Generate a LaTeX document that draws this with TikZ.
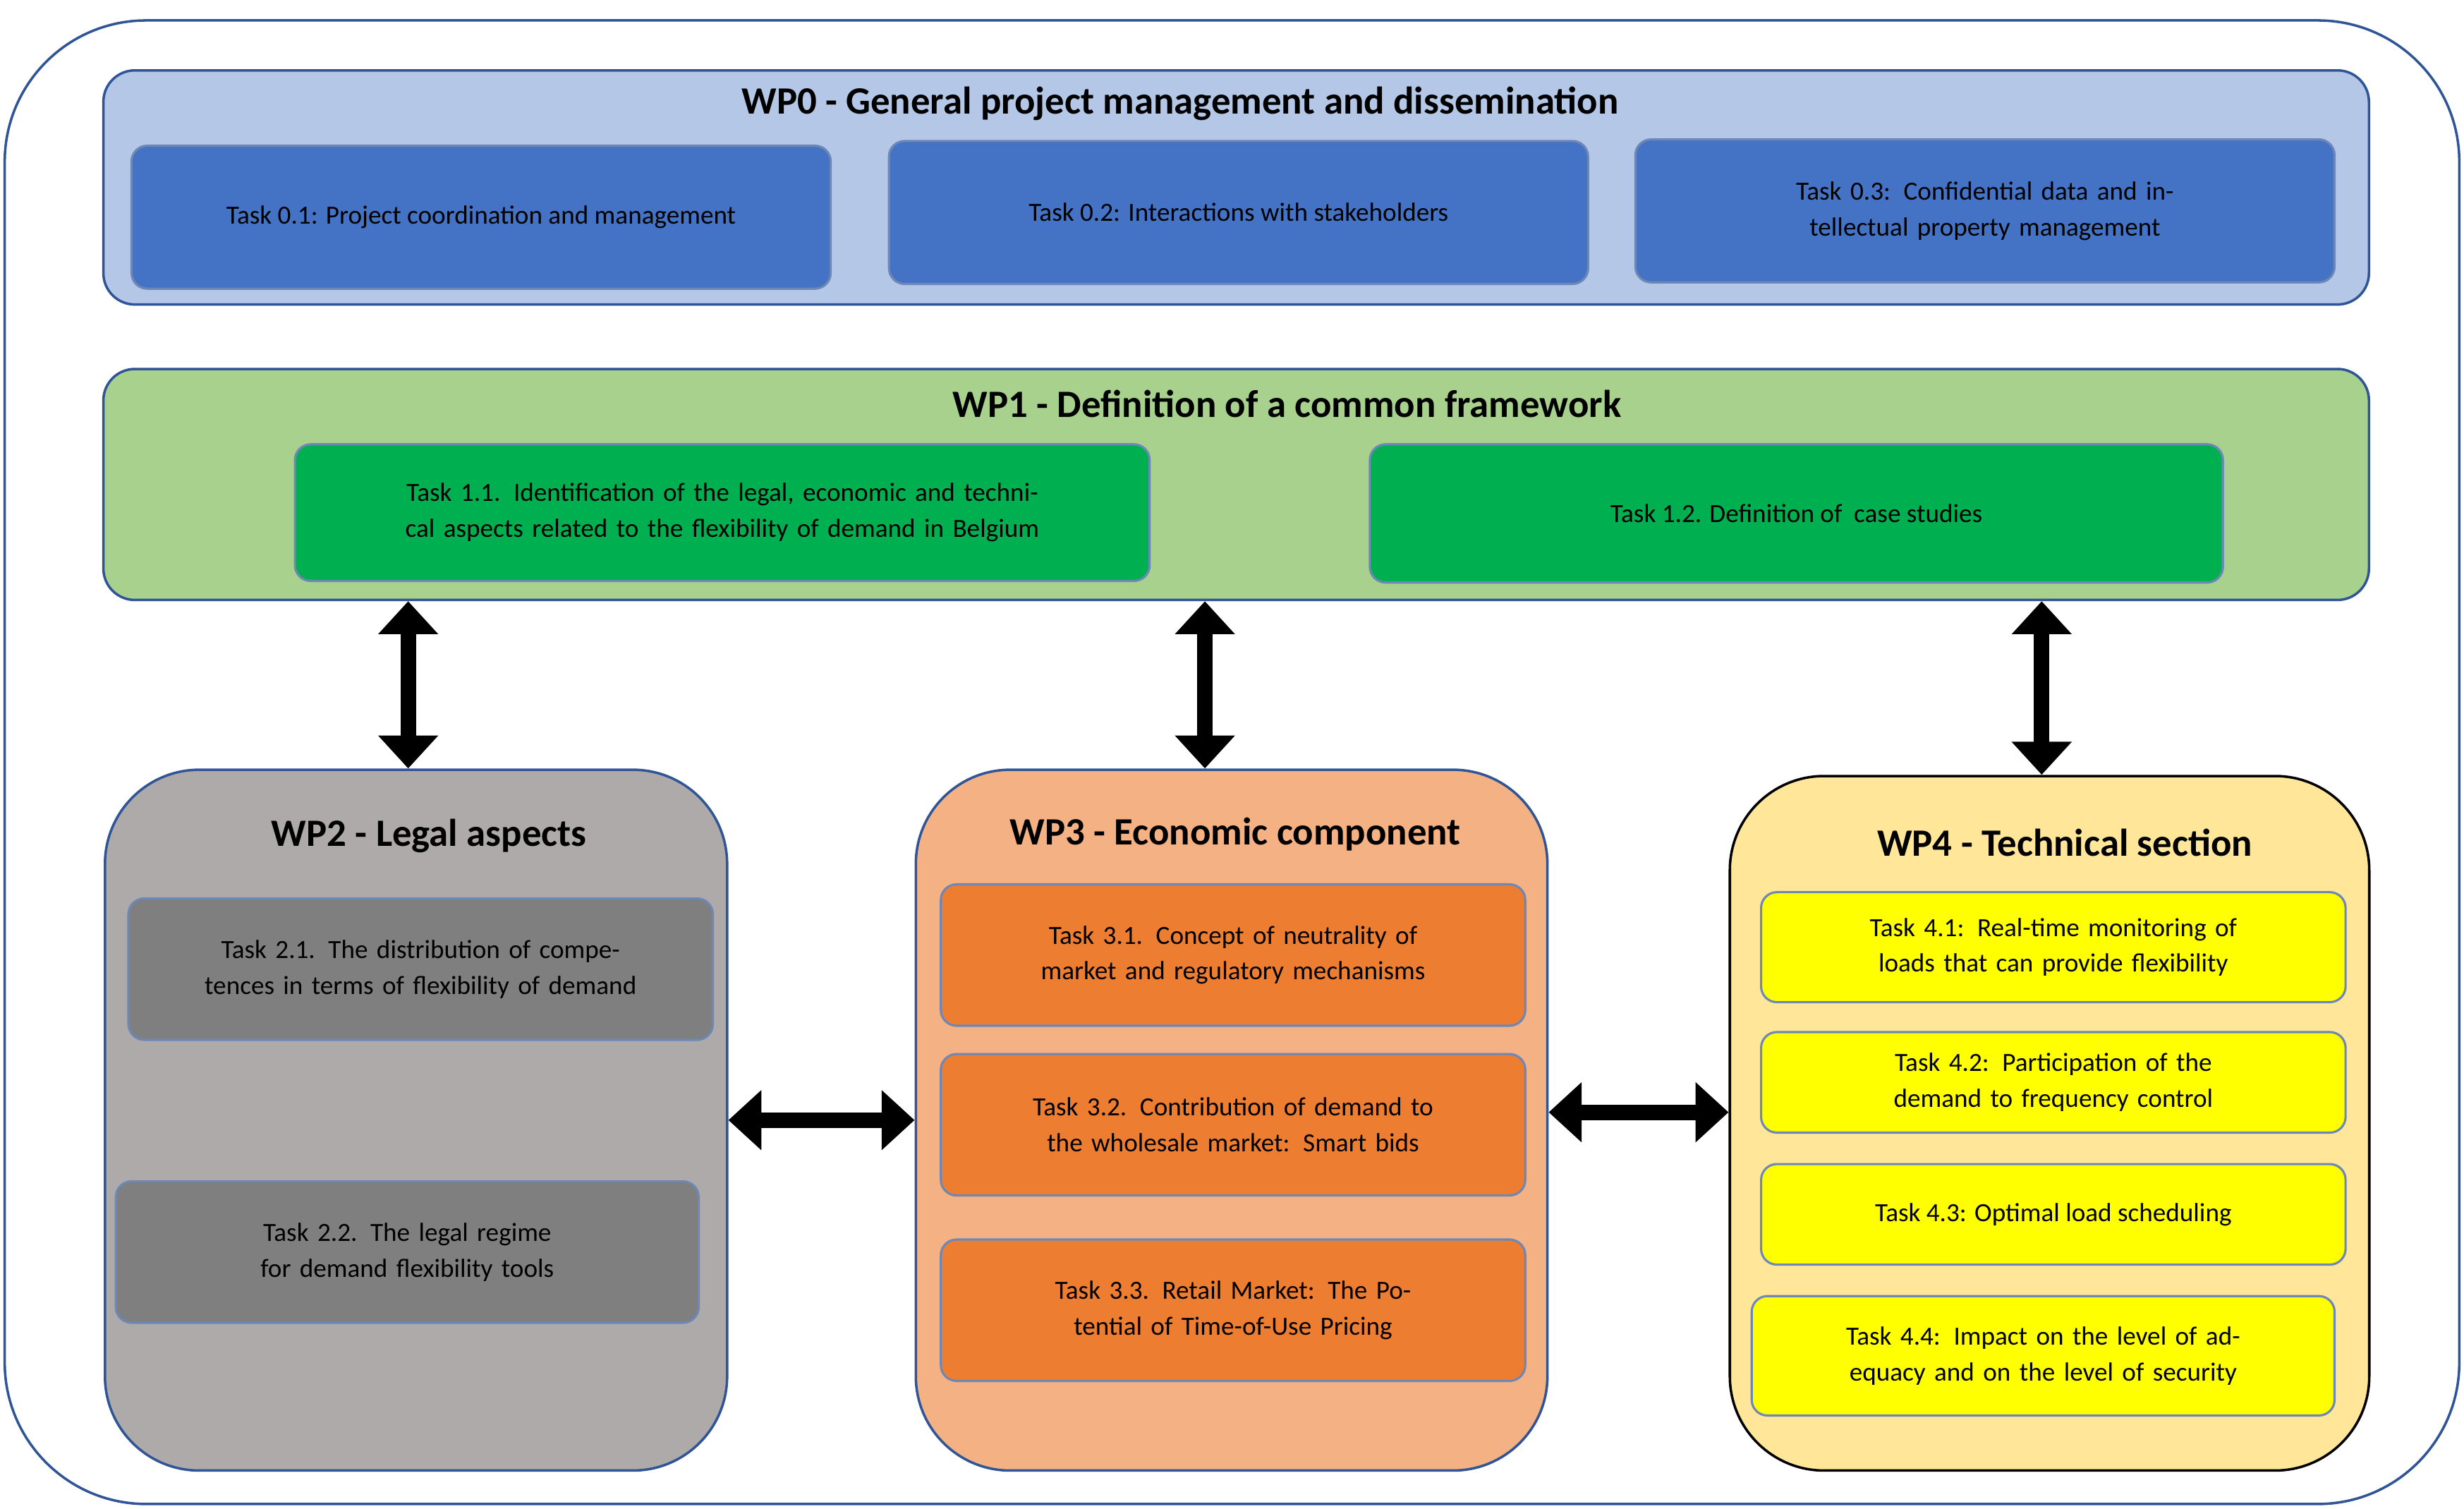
\documentclass[tikz,border=0pt]{standalone}
\usepackage{fontspec}
\setmainfont{Carlito}
\usetikzlibrary{arrows.meta,positioning}

\definecolor{wpblue}{HTML}{B4C7E7}
\definecolor{taskblue}{HTML}{4472C4}
\definecolor{wpgreen}{HTML}{A9D18E}
\definecolor{taskgreen}{HTML}{00B050}
\definecolor{wpgrey}{HTML}{AEAAAA}
\definecolor{taskgrey}{HTML}{7F7F7F}
\definecolor{wporange}{HTML}{F4B183}
\definecolor{taskorange}{HTML}{ED7D31}
\definecolor{wpyellow}{HTML}{FFE699}
\definecolor{taskyellow}{HTML}{FFFF00}
\definecolor{edgeblue}{HTML}{2F5597}

\begin{document}
\begin{tikzpicture}[x=0.02cm, y=-0.02cm]
    % Define block styles
    \tikzset{
      wp/.style = {rectangle, draw=edgeblue, line width=0.9pt, anchor=north west, rounded corners=0.4cm},
      bigwp/.style = {wp, rounded corners=1.2cm},
      task/.style = {rectangle, draw=edgeblue!70, line width=0.8pt, anchor=north west, rounded corners=0.2cm,
                     align=center, font=\fontsize{9.5}{13}\selectfont, inner sep=2pt},
      title/.style = {font=\bfseries\fontsize{14}{17}\selectfont},
      link/.style = {line width=0.2cm, {Triangle[length=0.42cm,width=0.74cm]}-{Triangle[length=0.42cm,width=0.74cm]}}
    }
    \useasboundingbox (0,0) rectangle (1568,960);
    \draw[edgeblue, line width=0.9pt, rounded corners=1.8cm] (3,13) rectangle (1565,957);

    % WP0
    \node [wp, fill=wpblue, minimum width=28.84cm, minimum height=2.98cm] (wp0) at (65,44) {};
    \node [title] at (751,66) {WP0 - General project management and dissemination};
    \node [task, fill=taskblue, minimum width=8.9cm, minimum height=1.82cm] (t01) at (83,92) {Task 0.1: Project coordination and management};
    \node [task, fill=taskblue, minimum width=8.9cm, minimum height=1.82cm] (t02) at (565,89) {Task 0.2: Interactions with stakeholders};
    \node [task, fill=taskblue, minimum width=8.9cm, minimum height=1.82cm, text width=7.5cm] (t03) at (1040,88) {Task 0.3: Confidential data and intellectual property management};

    % WP1
    \node [wp, fill=wpgreen, minimum width=28.84cm, minimum height=2.94cm] (wp1) at (65,234) {};
    \node [title] at (819,257) {WP1 - Definition of a common framework};
    \node [task, fill=taskgreen, minimum width=10.88cm, minimum height=1.74cm, text width=9.6cm] (t11) at (187,282) {Task 1.1. Identification of the legal, economic and technical aspects related to the flexibility of demand in Belgium};
    \node [task, fill=taskgreen, minimum width=10.86cm, minimum height=1.76cm] (t12) at (871,282) {Task 1.2. Definition of\ \ case studies};

    % WP2
    \node [bigwp, fill=wpgrey, minimum width=7.92cm, minimum height=8.92cm] (wp2) at (66,489) {};
    \node [title] at (273,532) {WP2 - Legal aspects};
    \node [task, fill=taskgrey, minimum width=7.44cm, minimum height=1.8cm, text width=7cm] (t21) at (81,571) {Task 2.1. The distribution of competences in terms of flexibility of demand};
    \node [task, fill=taskgrey, minimum width=7.42cm, minimum height=1.8cm, text width=6.4cm] (t22) at (73,751) {Task 2.2. The legal regime for demand flexibility tools};

    % WP3
    \node [bigwp, fill=wporange, minimum width=8.04cm, minimum height=8.92cm] (wp3) at (582,489) {};
    \node [title] at (786,531) {WP3 - Economic component};
    \node [task, fill=taskorange, minimum width=7.44cm, minimum height=1.8cm, text width=6.6cm] (t31) at (598,562) {Task 3.1. Concept of neutrality of market and regulatory mechanisms};
    \node [task, fill=taskorange, minimum width=7.44cm, minimum height=1.8cm, text width=6.6cm] (t32) at (598,670) {Task 3.2. Contribution of demand to the wholesale market: Smart bids};
    \node [task, fill=taskorange, minimum width=7.44cm, minimum height=1.8cm, text width=6.6cm] (t33) at (598,788) {Task 3.3. Retail Market: The Potential of Time-of-Use Pricing};

    % WP4
    \node [bigwp, draw=black, fill=wpyellow, minimum width=8.14cm, minimum height=8.84cm] (wp4) at (1100,493) {};
    \node [title] at (1314,536) {WP4 - Technical section};
    \node [task, fill=taskyellow, minimum width=7.44cm, minimum height=1.4cm, text width=6.6cm] (t41) at (1120,567) {Task 4.1: Real-time monitoring of loads that can provide flexibility};
    \node [task, fill=taskyellow, minimum width=7.44cm, minimum height=1.28cm, text width=6.6cm] (t42) at (1120,656) {Task 4.2: Participation of the demand to frequency control};
    \node [task, fill=taskyellow, minimum width=7.44cm, minimum height=1.28cm] (t43) at (1120,740) {Task 4.3: Optimal load scheduling};
    \node [task, fill=taskyellow, minimum width=7.42cm, minimum height=1.52cm, text width=6.6cm] (t44) at (1114,824) {Task 4.4: Impact on the level of adequacy and on the level of security};

    % Arrows
    \draw [link] ([xshift=-0.1cm]wp2.north) -- ([xshift=-0.1cm]wp2.north |- wp1.south);
    \draw [link] ([xshift=-0.34cm]wp3.north) -- ([xshift=-0.34cm]wp3.north |- wp1.south);
    \draw [link] ([xshift=-0.1cm]wp4.north) -- ([xshift=-0.1cm]wp4.north |- wp1.south);
    \draw [link] (wp2.east) -- (wp3.west);
    \draw [link] ([yshift=0.1cm]wp3.east) -- ([yshift=0.1cm]wp3.east -| wp4.west);
\end{tikzpicture}
\end{document}
